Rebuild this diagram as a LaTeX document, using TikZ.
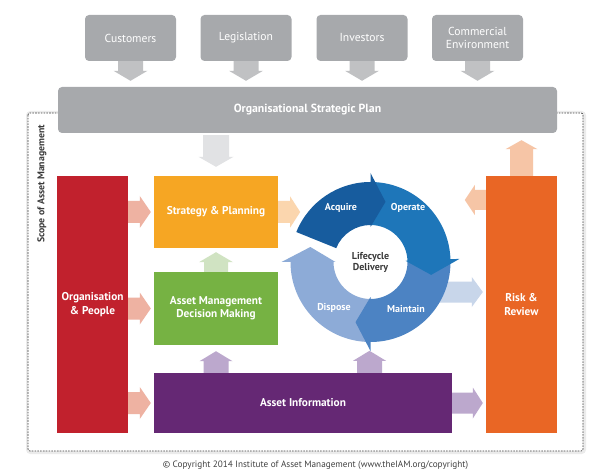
\documentclass[tikz,border=0pt]{standalone}
\usepackage{fontspec}
\setmainfont{PT Sans}
\usetikzlibrary{calc}
\definecolor{boxgray}{RGB}{167,169,172}
\definecolor{grayarrow}{RGB}{192,193,195}
\definecolor{planarrow}{RGB}{225,226,228}
\definecolor{cred}{RGB}{193,33,45}
\definecolor{corange}{RGB}{246,166,35}
\definecolor{cgreen}{RGB}{118,178,67}
\definecolor{cpurple}{RGB}{101,40,116}
\definecolor{crisk}{RGB}{233,102,37}
\definecolor{salmon}{RGB}{238,178,162}
\definecolor{peach}{RGB}{251,214,174}
\definecolor{peachrisk}{RGB}{246,197,166}
\definecolor{lgreen}{RGB}{208,227,194}
\definecolor{lpurple}{RGB}{188,168,205}
\definecolor{lblue}{RGB}{200,214,234}
\definecolor{cacquire}{RGB}{23,92,158}
\definecolor{coperate}{RGB}{30,118,185}
\definecolor{cmaintain}{RGB}{76,131,195}
\definecolor{cdispose}{RGB}{141,171,215}
\definecolor{txtdark}{RGB}{58,58,58}
% block arrow: #1 from, #2 tip, #3 colour, #4 shaft half width, #5 head half width, #6 head length
\newcommand\blockarr[6]{%
  \fill[#3] let \p1=(#1), \p2=(#2), \n1={atan2((\y2)-(\y1),(\x2)-(\x1))},
    \p3=($(\p2)!#6!(\p1)$) in
    ($(\p1)+(\n1+90:#4)$) -- ($(\p3)+(\n1+90:#4)$) -- ($(\p3)+(\n1+90:#5)$) -- (\p2)
    -- ($(\p3)+(\n1-90:#5)$) -- ($(\p3)+(\n1-90:#4)$) -- ($(\p1)+(\n1-90:#4)$) -- cycle;}
% ring segment: #1 start angle, #2 head base angle, #3 colour
\newcommand\ringseg[3]{%
  \fill[#3] (#1:80) arc[start angle=#1, end angle=#2, radius=80] -- (#2:89) -- ({#2-14}:62)
    -- (#2:35) -- (#2:37) arc[start angle=#2, end angle=#1, radius=37] -- cycle;}
\tikzset{
  softshadow/.style={fill=black!9, rounded corners=4pt},
  topbox/.style={fill=boxgray, rounded corners=4pt, minimum width=91pt, minimum height=46pt,
    inner sep=0pt, text=white, align=center, font=\fontsize{11.6}{13}\selectfont},
  planbox/.style={fill=boxgray, rounded corners=4pt, minimum width=499pt, minimum height=46pt,
    inner sep=0pt, text=white, font=\bfseries\fontsize{11.8}{13}\selectfont},
  bigbox/.style={inner sep=0pt, text=white, align=center, font=\bfseries\fontsize{11.3}{13.2}\selectfont},
  ringlabel/.style={text=white, font=\bfseries\fontsize{10}{11}\selectfont, inner sep=0pt},
}
\begin{document}
\begin{tikzpicture}[x=1pt,y=-1pt]
\useasboundingbox (0,0) rectangle (602,470);
% scope box
\coordinate (sA) at (28,113);
\coordinate (sB) at (583,451);
\draw[line width=3pt, black!8, rounded corners=3pt] ($(sA)+(-0.5,-0.5)$) rectangle ($(sB)+(1.5,1.5)$);
\draw[fill=white, draw=black!75, line width=0.7pt, dash pattern=on 1.6pt off 1.2pt, rounded corners=2pt] (sA) rectangle (sB);
\node[rotate=90, text=txtdark, font=\bfseries\fontsize{9.8}{11}\selectfont, inner sep=0pt] (scopelbl) at (42,184) {Scope of Asset Management};
% top boxes
\node[topbox] (cust) at (130.5,38) {Customers};
\node[topbox] (legi) at (246,38) {Legislation};
\node[topbox] (inv) at (362,38) {Investors};
\node[topbox] (comm) at (477.5,38) {Commercial\\Environment};
\begin{scope}[on background layer/.try]
\end{scope}
\node[planbox] (plan) at (307.5,110) {Organisational Strategic Plan};
% main boxes
\node[bigbox, fill=cred, minimum width=71pt, minimum height=257pt] (orgp) at (92.5,304.5) {Organisation\\\& People};
\node[bigbox, fill=corange, minimum width=124pt, minimum height=72pt] (strat) at (216,212) {Strategy \& Planning};
\node[bigbox, fill=cgreen, minimum width=124pt, minimum height=73pt] (amdm) at (216,308.5) {Asset Management\\Decision Making};
\node[bigbox, fill=cpurple, minimum width=298pt, minimum height=60pt] (ainfo) at (303,403) {Asset Information};
\node[bigbox, fill=crisk, minimum width=71pt, minimum height=257pt] (risk) at (521.5,304.5) {Risk \&\\Review};
\coordinate (ring) at (370.5,262);
% arrow end points
\coordinate (t1) at ($(cust.south |- plan.north)+(0,-6)$);
\coordinate (t2) at ($(legi.south |- plan.north)+(0,-6)$);
\coordinate (t3) at ($(inv.south |- plan.north)+(0,-6)$);
\coordinate (t4) at ($(comm.south |- plan.north)+(0,-6)$);
\coordinate (p1s) at ($(strat.north |- plan.south)+(0,2)$);
\coordinate (t5) at ($(strat.north)+(0,-9)$);
\coordinate (t6) at ($(strat.south)+(0,4)$);
\coordinate (t7) at ($(strat.west)+(-3,0)$);
\coordinate (t8) at ($(amdm.west)+(-3,0)$);
\coordinate (t9) at ($(ainfo.west)+(-3,0)$);
\coordinate (t10) at ($(amdm.south)+(0,6)$);
\coordinate (s11) at ($(ring |- ainfo.north)+(-1,0)$);
\coordinate (t11) at ($(s11)+(0,-22)$);
\coordinate (t12) at ($(risk.west |- ainfo.east)+(-3,0)$);
\coordinate (t13) at ($(strat.east)+(22,0)$);
\coordinate (s14) at ($(ring)+(68,30)$);
\coordinate (t14) at ($(risk.west |- s14)+(-3,0)$);
\coordinate (s15) at ($(risk.west)+(0,-104.5)$);
\coordinate (t15) at ($(s15)+(-21,0)$);
\coordinate (t16) at ($(risk.north |- plan.south)+(0,7)$);
% connectors
\blockarr{cust.south}{t1}{grayarrow}{12.5pt}{17pt}{10pt}
\blockarr{legi.south}{t2}{grayarrow}{12.5pt}{17pt}{10pt}
\blockarr{inv.south}{t3}{grayarrow}{12.5pt}{17pt}{10pt}
\blockarr{comm.south}{t4}{grayarrow}{12.5pt}{17pt}{10pt}
\blockarr{p1s}{t5}{planarrow}{13pt}{17.5pt}{10pt}
\blockarr{amdm.north}{t6}{lgreen}{12pt}{17pt}{10pt}
\blockarr{orgp.east |- strat.west}{t7}{salmon}{11pt}{16pt}{11pt}
\blockarr{orgp.east |- amdm.west}{t8}{salmon}{11pt}{16pt}{11pt}
\blockarr{orgp.east |- ainfo.west}{t9}{salmon}{11pt}{16pt}{11pt}
\blockarr{amdm.south |- ainfo.north}{t10}{lpurple}{12.5pt}{16.5pt}{10pt}
\blockarr{s11}{t11}{lpurple}{12.5pt}{16.5pt}{10pt}
\blockarr{ainfo.east}{t12}{lpurple}{10.5pt}{15.5pt}{10pt}
\blockarr{strat.east}{t13}{peach}{11pt}{15.5pt}{10pt}
\blockarr{s14}{t14}{lblue}{10.5pt}{15pt}{11pt}
\blockarr{s15}{t15}{peachrisk}{10pt}{15pt}{10pt}
\blockarr{risk.north}{t16}{peachrisk}{11.5pt}{16pt}{9pt}
% lifecycle ring
\begin{scope}[shift={(ring)}, x=1pt, y=1pt]
  \ringseg{270}{180}{cdispose}
  \ringseg{360}{270}{cmaintain}
  \ringseg{90}{2}{coperate}
  \ringseg{158}{90}{cacquire}
\end{scope}
\node[ringlabel] (acq) at (341,208) {Acquire};
\node[ringlabel] (ope) at (408,208) {Operate};
\node[ringlabel] (mai) at (406,309) {Maintain};
\node[ringlabel] (dis) at (334,308) {Dispose};
\node[text=txtdark, align=center, font=\bfseries\fontsize{10}{11}\selectfont, inner sep=0pt] (lcd) at (ring) {Lifecycle\\Delivery};
% copyright
\node[text=black!75, font=\fontsize{9.2}{10}\selectfont, inner sep=0pt] (copy) at (315.5,465) {© Copyright 2014 Institute of Asset Management (www.theIAM.org/copyright)};
\end{tikzpicture}
\end{document}
